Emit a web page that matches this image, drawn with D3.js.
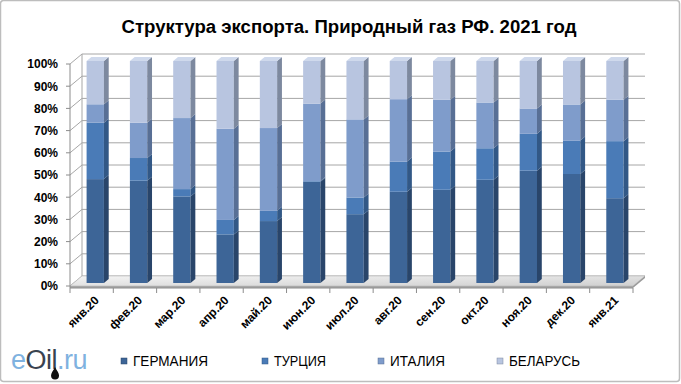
<!DOCTYPE html>
<html><head><meta charset="utf-8">
<script src="https://cdn.jsdelivr.net/npm/d3@7"></script>
<style>body{margin:0;background:#fff}svg{display:block}</style>
</head><body>
<svg id="c" width="681" height="384"></svg>
<script>
const categories = ["янв.20","фев.20","мар.20","апр.20","май.20","июн.20","июл.20","авг.20","сен.20","окт.20","ноя.20","дек.20","янв.21"];
const seriesNames = ["ГЕРМАНИЯ","ТУРЦИЯ","ИТАЛИЯ","БЕЛАРУСЬ"];
const germany = [46.8,46.1,39.0,21.9,27.9,45.6,31.0,41.1,42.0,46.5,50.6,49.1,38.2];
const turkey  = [25.4,10.2,3.3,6.5,4.6,0.3,7.5,13.6,17.2,14.2,16.6,15.1,25.7];
const italy   = [8.3,15.9,32.0,41.1,37.3,34.9,35.2,28.1,23.4,20.6,11.4,16.2,18.7];
const belarus = [19.5,27.8,25.7,30.5,30.2,19.2,26.3,17.2,17.4,18.7,21.4,19.6,17.4];
const yTicks = [0,10,20,30,40,50,60,70,80,90,100];
const title = "Структура экспорта. Природный газ РФ. 2021 год";

const front = ["#3d6597","#4a7bb7","#7f9ccb","#b8c5e0"];
const side  = ["#29456a","#325886","#586f95","#7d899f"];
const topc  = ["#5b82b3","#6b95cc","#9fb6dc","#cfd9ec"];

const svg = d3.select("#c");
const DX = 12, DY = -10;
const y = d3.scaleLinear().domain([0,100]).range([286,64]);
const x = d3.scaleBand().domain(categories).range([70,633]).paddingInner(0.6).paddingOuter(0.3);
const FF = "Liberation Sans, Arial, sans-serif";

// border
svg.append("rect").attr("x",0.5).attr("y",0.5).attr("width",679).attr("height",381)
  .attr("rx",3).attr("fill","#fff").attr("stroke","#bdbdbd").attr("stroke-width",1.5);

// title
svg.append("text").attr("x",349).attr("y",33).attr("text-anchor","middle")
  .attr("font-family",FF).attr("font-weight","bold")
  .attr("font-size",18).attr("textLength",455).attr("lengthAdjust","spacingAndGlyphs")
  .text(title);

const x0 = 70, x1 = 633;
const g = svg.append("g");
const gridColor = "#a6a6a6";
yTicks.forEach(v=>{
  g.append("line").attr("x1",x0).attr("y1",y(v)).attr("x2",x0+DX).attr("y2",y(v)+DY)
    .attr("stroke",gridColor);
  g.append("line").attr("x1",x0+DX).attr("y1",y(v)+DY).attr("x2",x1+DX).attr("y2",y(v)+DY)
    .attr("stroke",gridColor);
});
g.append("line").attr("x1",x0+DX).attr("y1",y(0)+DY).attr("x2",x0+DX).attr("y2",y(100)+DY).attr("stroke",gridColor);

// floor
const defs = svg.append("defs");
const lg = defs.append("linearGradient").attr("id","fl").attr("x1",0).attr("y1",0).attr("x2",1).attr("y2",1);
lg.append("stop").attr("offset",0).attr("stop-color","#f4f4f4");
lg.append("stop").attr("offset",1).attr("stop-color","#cfcfcf");
const fy = y(0);
g.append("path").attr("d",`M${x0},${fy}L${x1},${fy}L${x1+DX},${fy+DY}L${x0+DX},${fy+DY}Z`)
  .attr("fill","url(#fl)").attr("stroke","#b8b8b8").attr("stroke-width",0.6);
g.append("rect").attr("x",x0).attr("y",fy).attr("width",x1-x0).attr("height",2).attr("fill","#a8a8a8");
g.append("path").attr("d",`M${x1},${fy}L${x1+DX},${fy+DY}L${x1+DX},${fy+DY+2}L${x1},${fy+2}Z`).attr("fill","#9a9a9a");

// axes
const axisColor = "#8c8c8c";
g.append("line").attr("x1",x0).attr("y1",fy+2).attr("x2",x1).attr("y2",fy+2).attr("stroke",axisColor);
g.append("line").attr("x1",x0).attr("y1",y(100)).attr("x2",x0).attr("y2",fy+2).attr("stroke",axisColor);
yTicks.forEach(v=>{
  g.append("line").attr("x1",x0-4).attr("y1",y(v)).attr("x2",x0).attr("y2",y(v)).attr("stroke",axisColor);
  g.append("text").attr("x",58).attr("y",y(v)).attr("dy","0.36em").attr("text-anchor","end")
    .attr("font-family",FF).attr("font-weight","bold").attr("font-size",12)
    .text(v+"%");
});
const step = x.step();
d3.range(categories.length+1).forEach(i=>{
  const tx = x0 + i*step;
  g.append("line").attr("x1",tx).attr("y1",fy+2).attr("x2",tx).attr("y2",fy+7).attr("stroke",axisColor);
});
categories.forEach(c=>{
  const cx = x(c) + x.bandwidth()/2;
  g.append("text").attr("transform",`translate(${cx+8},${fy+15}) rotate(-45)`)
    .attr("text-anchor","end").attr("font-family",FF)
    .attr("font-weight","bold").attr("font-size",12).text(c);
});

// bars
const series = [germany, turkey, italy, belarus];
const za = 0.3, zb = 0.7;
categories.forEach((c,i)=>{
  let cum = 0;
  const bx = x(c) + za*DX, bw = x.bandwidth();
  const sdx = (zb-za)*DX, sdy = (zb-za)*DY;
  series.forEach((s,k)=>{
    const v0 = cum, v1 = cum + s[i]; cum = v1;
    const yt = y(v1) + za*DY, yb = y(v0) + za*DY;
    if (yb - yt <= 0) return;
    g.append("rect").attr("x",bx).attr("y",yt).attr("width",bw).attr("height",yb-yt).attr("fill",front[k]);
    g.append("path").attr("d",`M${bx+bw},${yt}L${bx+bw+sdx},${yt+sdy}L${bx+bw+sdx},${yb+sdy}L${bx+bw},${yb}Z`)
      .attr("fill",side[k]);
    if (k===series.length-1) {
      g.append("path").attr("d",`M${bx},${yt}L${bx+bw},${yt}L${bx+bw+sdx},${yt+sdy}L${bx+sdx},${yt+sdy}Z`)
        .attr("fill",topc[k]);
    }
  });
});

// legend
const legX = [124,265,381,500];
const legW = [75,52,55,71];
seriesNames.forEach((n,k)=>{
  svg.append("rect").attr("x",legX[k]-3).attr("y",358).attr("width",6).attr("height",6)
    .attr("fill",front[k]).attr("stroke",side[k]).attr("stroke-width",0.5);
  svg.append("text").attr("x",legX[k]+9).attr("y",366)
    .attr("font-family",FF).attr("font-size",14)
    .attr("textLength",legW[k]).attr("lengthAdjust","spacingAndGlyphs")
    .text(n);
});

// logo
const logo = svg.append("text").attr("x",11).attr("y",369)
  .attr("font-family",FF).attr("font-size",27).attr("letter-spacing",-0.5);
logo.append("tspan").attr("fill","#7fb2e0").text("e");
logo.append("tspan").attr("fill","#3a4350").text("Oil");
logo.append("tspan").attr("fill","#7fb2e0").text(".ru");
let lx = 60;
try { const n = logo.node(); lx = 11 + n.getSubStringLength(0,4) - 2; } catch(e) {}
svg.append("path").attr("d",`M${lx},367 C${lx-2},371 ${lx-4},373 ${lx-4},375.5 A4,4 0 0 0 ${lx+4},375.5 C${lx+4},373 ${lx+2},371 ${lx},367Z`)
  .attr("fill","#111");
</script>
</body></html>
